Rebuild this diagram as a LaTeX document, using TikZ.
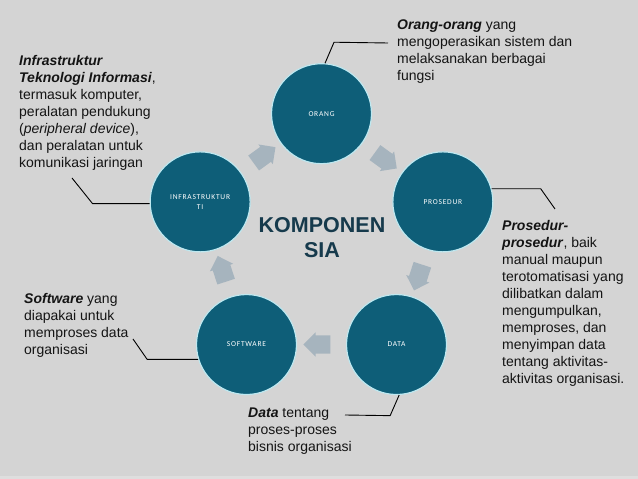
\documentclass[tikz,border=0pt]{standalone}
\usepackage{fontspec}
\setmainfont{Liberation Sans}
\newfontfamily\circlefont[LetterSpace=10]{Carlito}
\usetikzlibrary{shapes, arrows, positioning}

\definecolor{bggray}{RGB}{212,212,212}
\definecolor{stripgray}{RGB}{222,222,222}
\definecolor{circleteal}{RGB}{14,94,120}
\definecolor{circleedge}{RGB}{190,232,240}
\definecolor{arrowgray}{RGB}{166,180,190}
\definecolor{titleteal}{RGB}{22,58,76}
\definecolor{notetext}{RGB}{20,20,20}

\begin{document}
\begin{tikzpicture}[
    x=1pt, y=1pt,
    part/.style={circle, draw=circleedge, line width=1.2pt, fill=circleteal, minimum size=100pt, inner sep=0pt, align=center, text=white, font=\circlefont\fontsize{7.5}{10}\selectfont},
    cyclearrow/.style={single arrow, fill=arrowgray, minimum height=27pt, inner xsep=0pt, inner ysep=9pt, single arrow head extend=3pt},
    note/.style={anchor=north west, align=left, inner sep=0pt, text=notetext, font=\fontsize{14}{17}\selectfont},
    leader/.style={draw=black, line width=0.9pt}
]

\useasboundingbox (0,0) rectangle (638,479);
\fill[bggray] (0,0) rectangle (638,479);
\fill[stripgray] (0,0) rectangle (638,3);

% Nodes
\coordinate (centre) at (321.5,237.7);
\node[part] (orang) at ([shift={(90:127.6)}]centre) {ORANG};
\node[part] (prosedur) at ([shift={(18:127.6)}]centre) {PROSEDUR};
\node[part] (data) at ([shift={(-54:127.6)}]centre) {DATA};
\node[part] (software) at ([shift={(-126:127.6)}]centre) {SOFTWARE};
\node[part] (infra) at ([shift={(162:127.6)}]centre) {INFRASTRUKTUR\\TI};

\node[anchor=north, align=center, inner sep=0pt, text=titleteal, font=\bfseries\fontsize{21.5}{25.5}\selectfont] (title) at (322,262) {KOMPONEN\\SIA};

% Cycle arrows
\node[cyclearrow, rotate=-36] (orang2prosedur) at ([shift={(54:103.2)}]centre) {};
\node[cyclearrow, rotate=-108] (prosedur2data) at ([shift={(-18:103.2)}]centre) {};
\node[cyclearrow, rotate=180] (data2software) at ([shift={(-90:103.2)}]centre) {};
\node[cyclearrow, rotate=108] (software2infra) at ([shift={(-162:103.2)}]centre) {};
\node[cyclearrow, rotate=36] (infra2orang) at ([shift={(126:103.2)}]centre) {};

% Notes
\node[note] (orangnote) at (397,459) {\textbf{\textit{Orang-orang}} yang\\mengoperasikan sistem dan\\melaksanakan berbagai\\fungsi};
\node[note] (infranote) at (19,424) {\textbf{\textit{Infrastruktur}}\\\textbf{\textit{Teknologi Informasi}},\\termasuk komputer,\\peralatan pendukung\\(\textit{peripheral device}),\\dan peralatan untuk\\komunikasi jaringan};
\node[note] (prosedurnote) at (502,259) {\textbf{\textit{Prosedur-}}\\\textbf{\textit{prosedur}}, baik\\manual maupun\\terotomatisasi yang\\dilibatkan dalam\\mengumpulkan,\\memproses, dan\\menyimpan data\\tentang aktivitas-\\aktivitas organisasi.};
\node[note] (softwarenote) at (24,186.3) {\textbf{\textit{Software}} yang\\diapakai untuk\\memproses data\\organisasi};
\node[note] (datanote) at (248,71) {\textbf{\textit{Data}} tentang\\proses-proses\\bisnis organisasi};

% Leaders
\coordinate (orangend) at (388,436);
\coordinate (infraend) at (72,301);
\coordinate (prosedurend) at (555,270);
\coordinate (softwareend) at (133,140);
\coordinate (dataend) at (345,64);

\draw[leader] (orang.86) -- ++(9,21) -- (orangend);
\draw[leader] (infra.182) -- ++(-57,0) -- (infraend);
\draw[leader] (prosedur.15) -- ++(49,0) -- (prosedurend);
\draw[leader] (software.197) -- ++(-51,0) -- (softwareend);
\draw[leader] (data.-87) -- ++(-9,-20.6) -- (dataend);

\end{tikzpicture}
\end{document}
